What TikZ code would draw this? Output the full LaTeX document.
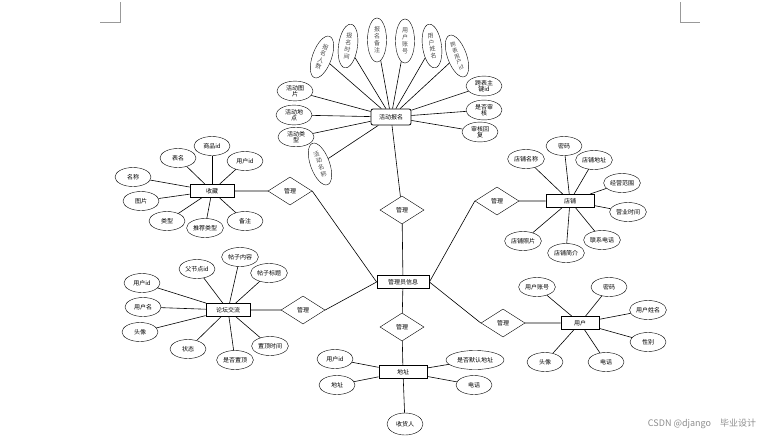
\documentclass[tikz,border=0pt]{standalone}
\usepackage{fontspec}
\setmainfont{Noto Sans CJK SC}
\usetikzlibrary{shapes.geometric}
\begin{document}
\begin{tikzpicture}[x=1pt,y=-1pt,
  every node/.style={font=\fontsize{6}{6.5}\selectfont,inner sep=1pt},
  ent/.style={draw,thick,fill=white,minimum width=44,minimum height=13},
  att/.style={draw,ellipse,fill=white,minimum width=36,minimum height=19,align=center},
  vat/.style={draw,ellipse,fill=white,minimum width=19,minimum height=44,inner sep=0pt,align=center,font=\fontsize{6}{7}\selectfont\color{black!70}},
  rel/.style={draw,diamond,aspect=1.6,fill=white,minimum width=44,minimum height=28,inner sep=0pt},
  ln/.style={draw,semithick}]
\useasboundingbox (0,0) rectangle (782,440);
\draw[black!40] (120,2)--(120,22)--(100,22) (680,2)--(680,22)--(700,22);
% centre
\node[ent,minimum width=52] (C) at (403,282) {管理员信息};
% top cluster
\node[ent,rounded corners=2pt,minimum width=40,minimum height=16] (H) at (391,117) {活动报名};
\node[vat,rotate=-20] (h1) at (322,57) {报\\名\\人\\数};
\node[vat,rotate=-8] (h2) at (348,46) {报\\名\\时\\间};
\node[vat] (h3) at (377,40) {报\\名\\备\\注};
\node[vat] (h4) at (405,41) {用\\户\\账\\号};
\node[vat,rotate=8] (h5) at (432,46) {用\\户\\姓\\名};
\node[vat,rotate=20,font=\fontsize{5.5}{6}\selectfont\color{black!70}] (h6) at (457,56) {跨\\表\\用\\户\\id};
\node[vat,rotate=20] (h7) at (320,164) {活\\动\\名\\称};
\node[att] (h8) at (295,91) {活动图\\片};
\node[att] (h9) at (294,115) {活动地\\点};
\node[att] (h10) at (296,137) {活动类\\型};
\node[att] (h11) at (484,86) {跨表主\\键id};
\node[att] (h12) at (484,110) {是否审\\核};
\node[att] (h13) at (480,132) {审核回\\复};
\foreach \i in {1,...,13} \draw[ln] (H) -- (h\i);
\node[rel] (R1) at (402,210) {管理};
\draw[ln] (H) -- (R1) -- (C);
% 收藏
\node[ent] (S) at (212,191) {收藏};
\node[att] (s1) at (212,146) {商品id};
\node[att] (s2) at (178,158) {表名};
\node[att] (s3) at (245,161) {用户id};
\node[att] (s4) at (133,177) {名称};
\node[att] (s5) at (141,201) {图片};
\node[att] (s6) at (167,221) {类型};
\node[att] (s7) at (205,228) {推荐类型};
\node[att] (s8) at (245,221) {备注};
\foreach \i in {1,...,8} \draw[ln] (S) -- (s\i);
\node[rel] (R2) at (290,191) {管理};
\draw[ln] (S) -- (R2.west) (R2.east) -- (C.west);
% 论坛交流
\node[ent] (F) at (228,310) {论坛交流};
\node[att] (f1) at (197,269) {父节点id};
\node[att] (f2) at (240,257) {帖子内容};
\node[att] (f3) at (269,273) {帖子标题};
\node[att] (f4) at (142,283) {用户id};
\node[att] (f5) at (143,307) {用户名};
\node[att] (f6) at (140,332) {头像};
\node[att] (f7) at (188,349) {状态};
\node[att] (f8) at (235,360) {是否置顶};
\node[att] (f9) at (270,346) {置顶时间};
\foreach \i in {1,...,9} \draw[ln] (F) -- (f\i);
\node[rel] (R3) at (303,310) {管理};
\draw[ln] (F) -- (R3.west) (R3.east) -- (C.west);
% 店铺
\node[ent,minimum width=48] (D) at (570,201) {店铺};
\node[att] (d1) at (564,146) {密码};
\node[att] (d2) at (526,159) {店铺名称};
\node[att] (d3) at (594,160) {店铺地址};
\node[att] (d4) at (622,183) {经营范围};
\node[att] (d5) at (628,212) {营业时间};
\node[att] (d6) at (523,241) {店铺照片};
\node[att] (d7) at (566,253) {店铺简介};
\node[att] (d8) at (602,240) {联系电话};
\foreach \i in {1,...,8} \draw[ln] (D) -- (d\i);
\node[rel] (R4) at (497,201) {管理};
\draw[ln] (D) -- (R4.east) (R4.west) -- (C.east);
% 用户
\node[ent,minimum width=38] (U) at (580,323) {用户};
\node[att] (u1) at (537,287) {用户账号};
\node[att] (u2) at (609,287) {密码};
\node[att] (u3) at (648,310) {用户姓名};
\node[att] (u4) at (648,342) {性别};
\node[att] (u5) at (545,362) {头像};
\node[att] (u6) at (606,362) {电话};
\foreach \i in {1,...,6} \draw[ln] (U) -- (u\i);
\node[rel] (R5) at (503,323) {管理};
\draw[ln] (U) -- (R5.east) (R5.west) -- (C.east);
% 地址
\node[ent,minimum width=48] (A) at (403,372) {地址};
\node[att] (a1) at (335,359) {用户id};
\node[att] (a2) at (337,385) {地址};
\node[att,minimum width=58] (a3) at (475,360) {是否默认地址};
\node[att] (a4) at (474,385) {电话};
\node[att,minimum height=22] (a5) at (405,424) {收货人};
\foreach \i in {1,...,5} \draw[ln] (A) -- (a\i);
\node[rel] (R6) at (402,327) {管理};
\draw[ln] (C) -- (R6) -- (A);
\node[font=\fontsize{9}{10}\selectfont,text=black!45] (wm) at (702,424) {CSDN @django\quad 毕业设计};
\end{tikzpicture}
\end{document}
